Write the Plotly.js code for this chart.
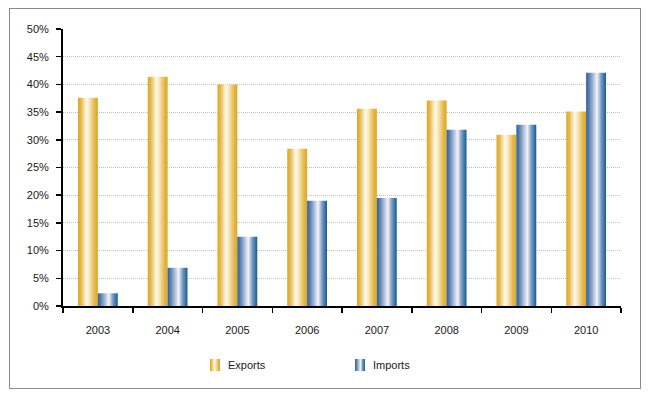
<!DOCTYPE html>
<html>
<head>
<meta charset="utf-8">
<script src="https://cdn.plot.ly/plotly-3.0.1.min.js"></script>
<style>
  html, body { margin: 0; padding: 0; background: #fff; }
  #wrap { position: relative; width: 650px; height: 397px; }
  #chart { position: absolute; left: 0; top: 0; width: 650px; height: 397px; }
  #frame { position: absolute; left: 9px; top: 8px; width: 630px; height: 379px;
           border: 1.5px solid #8a8a8a; pointer-events: none; }
</style>
</head>
<body>
<div id="wrap">
  <div id="chart"></div>
  <div id="frame"></div>
</div>
<script>
const years = ["2003", "2004", "2005", "2006", "2007", "2008", "2009", "2010"];
const exportsPct = [37.6, 41.4, 40.0, 28.4, 35.6, 37.1, 30.9, 35.1];
const importsPct = [2.3, 6.9, 12.5, 19.0, 19.5, 31.8, 32.7, 42.1];
const yTicks = [0, 5, 10, 15, 20, 25, 30, 35, 40, 45, 50];

const font = { family: "'Liberation Sans', Arial, sans-serif", size: 11, color: "#1a1a1a" };

const data = [
  { type: "bar", name: "Exports", x: years, y: exportsPct,
    marker: { color: "#e0ac28", line: { width: 0 } }, hoverinfo: "skip" },
  { type: "bar", name: "Imports", x: years, y: importsPct,
    marker: { color: "#1b5f95", line: { width: 0 } }, hoverinfo: "skip" }
];

const layout = {
  width: 650, height: 397,
  margin: { l: 63, r: 29, t: 29, b: 91 },
  paper_bgcolor: "#fff", plot_bgcolor: "#fff",
  font: font,
  barmode: "group", bargap: 0.43, bargroupgap: 0,
  showlegend: true,
  legend: { orientation: "h", x: 0.224, xanchor: "left", y: -0.213, yanchor: "middle",
            entrywidth: 100, itemwidth: 30, font: font, bgcolor: "rgba(0,0,0,0)" },
  xaxis: {
    type: "category", tickson: "boundaries", ticks: "outside", ticklen: 5, tickwidth: 1.5,
    tickcolor: "#000", showline: true, linecolor: "#000", linewidth: 2,
    showgrid: false, zeroline: false, ticklabelstandoff: 13, fixedrange: true
  },
  yaxis: {
    range: [0, 50], tickvals: yTicks, ticktext: yTicks.map(v => v + "%"),
    ticks: "outside", ticklen: 5, tickwidth: 1.5, tickcolor: "#000",
    showline: true, linecolor: "#000", linewidth: 2,
    showgrid: true, gridcolor: "#c0c0c0", gridwidth: 1, griddash: "1px,1px",
    zeroline: false, ticklabelstandoff: 5, fixedrange: true
  }
};

function addGradients(gd) {
  const svg = gd.querySelector("svg.main-svg");
  const NS = "http://www.w3.org/2000/svg";
  let defs = svg.querySelector("defs");
  if (!defs) { defs = document.createElementNS(NS, "defs"); svg.insertBefore(defs, svg.firstChild); }
  function grad(id, stops) {
    const g = document.createElementNS(NS, "linearGradient");
    g.setAttribute("id", id);
    g.setAttribute("x1", "0"); g.setAttribute("y1", "0");
    g.setAttribute("x2", "1"); g.setAttribute("y2", "0");
    stops.forEach(([o, c]) => {
      const s = document.createElementNS(NS, "stop");
      s.setAttribute("offset", o); s.setAttribute("stop-color", c);
      g.appendChild(s);
    });
    defs.appendChild(g);
  }
  grad("gradExp", [["0", "#dba724"], ["0.15", "#e6ba4a"], ["0.42", "#fdf8ea"], ["0.55", "#f8ebc6"], ["0.85", "#e4b543"], ["1", "#dca825"]]);
  grad("gradImp", [["0", "#285e96"], ["0.2", "#6f8fbb"], ["0.55", "#f4f4fb"], ["0.75", "#7b9cc2"], ["1", "#115d93"]]);
  const ids = ["url(#gradExp)", "url(#gradImp)"];
  gd.querySelectorAll(".barlayer .trace.bars").forEach((t, i) => {
    t.querySelectorAll("path").forEach(p => { p.style.fill = ids[i]; });
  });
  gd.querySelectorAll(".legend .traces").forEach((t, i) => {
    t.querySelectorAll(".legendpoints path").forEach(p => {
      p.style.fill = ids[i];
      p.setAttribute("d", "M12,6H2V-6H12Z");
    });
  });
}

Plotly.newPlot("chart", data, layout, { displayModeBar: false, staticPlot: true })
  .then(addGradients);
</script>
</body>
</html>
